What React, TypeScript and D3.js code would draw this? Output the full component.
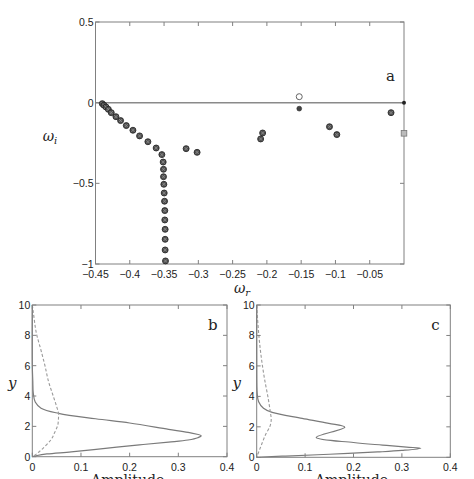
import * as d3 from "d3";

// panel a: eigenvalue spectrum (omega_r, omega_i)
const branchR = [-0.4401, -0.4377, -0.4347, -0.4313, -0.427, -0.4202, -0.4134, -0.4051, -0.3954, -0.3857, -0.3736, -0.3615, -0.3532, -0.3513, -0.3508, -0.3508, -0.3503, -0.3498, -0.3493, -0.3489, -0.3489, -0.3484, -0.3484, -0.3484, -0.3479];
const branchI = [-0.006, -0.016, -0.027, -0.041, -0.062, -0.087, -0.111, -0.142, -0.171, -0.206, -0.242, -0.281, -0.322, -0.368, -0.413, -0.459, -0.506, -0.56, -0.611, -0.669, -0.727, -0.785, -0.847, -0.913, -0.981];
const looseR = [-0.3178, -0.3018, -0.2062, -0.2091, -0.1087, -0.098, -0.0189];
const looseI = [-0.285, -0.308, -0.188, -0.225, -0.149, -0.198, -0.062];
const openPt = [-0.1528, 0.037];
const crossPt = [-0.1528, -0.037];
const squarePt = [0, -0.19];
const originPt = [0, 0];

const aXTicks = [-0.45, -0.4, -0.35, -0.3, -0.25, -0.2, -0.15, -0.1, -0.05];
const aYTicks = [-1, -0.5, 0, 0.5];

// panels b, c: amplitude profiles vs y
const bSolidX = [0, 0.01, 0.03, 0.08, 0.15, 0.22, 0.28, 0.32, 0.34, 0.347, 0.32, 0.28, 0.2, 0.13, 0.054, 0.018, 0.006, 0.002, 0.001, 0, 0];
const bSolidY = [0, 0.08, 0.18, 0.32, 0.55, 0.78, 0.96, 1.1, 1.25, 1.38, 1.6, 1.8, 2.22, 2.5, 2.86, 3.2, 3.6, 4.2, 5, 6, 10];
const bDashX = [0, 0.003, 0.008, 0.018, 0.026, 0.033, 0.043, 0.05, 0.054, 0.053, 0.046, 0.038, 0.025, 0.015, 0.005, 0];
const bDashY = [10, 9.3, 8.2, 7.0, 6.0, 5.0, 4.0, 3.3, 2.8, 2.2, 1.6, 1.1, 0.65, 0.35, 0.1, 0];

const cSolidX = [0, 0.01, 0.06, 0.15, 0.25, 0.3, 0.339, 0.31, 0.26, 0.2, 0.123, 0.182, 0.149, 0.094, 0.032, 0.014, 0.004, 0.001, 0, 0];
const cSolidY = [0, 0.02, 0.08, 0.2, 0.35, 0.45, 0.59, 0.67, 0.8, 0.97, 1.31, 1.97, 2.23, 2.56, 2.95, 3.22, 3.65, 4.2, 6, 10];
const cDashX = [0, 0.002, 0.006, 0.011, 0.017, 0.023, 0.028, 0.03, 0.027, 0.02, 0.012, 0.006, 0];
const cDashY = [10, 9, 7.5, 6.2, 5.0, 4.0, 3.0, 2.5, 2.0, 1.6, 1.0, 0.5, 0];

const ampTicks = [0, 0.1, 0.2, 0.3, 0.4];
const yTicks = [0, 2, 4, 6, 8, 10];

const FRAME = "#808080";
const TEXT = "#222";
const SANS = "'Liberation Sans', Arial, sans-serif";
const SERIF = "'DejaVu Serif', 'Liberation Serif', serif";
const fmt = (v: number) => (v < 0 ? "\u2212" + String(-v) : String(v));

type Sc = d3.ScaleLinear<number, number>;

function Frame({ x, y, xt, yt }: { x: Sc; y: Sc; xt: number[]; yt: number[] }) {
  const [x0, x1] = x.range();
  const [y0, y1] = y.range();
  const tl = 4;
  return (
    <g>
      <rect x={x0} y={y1} width={x1 - x0} height={y0 - y1} fill="none" stroke={FRAME} strokeWidth={1} />
      {xt.map((t) => (
        <g key={"x" + t}>
          <line x1={x(t)} x2={x(t)} y1={y0} y2={y0 - tl} stroke={FRAME} />
          <line x1={x(t)} x2={x(t)} y1={y1} y2={y1 + tl} stroke={FRAME} />
          <text x={x(t)} y={y0 + 14} textAnchor="middle" fontSize={10.5} fontFamily={SANS} fill={TEXT}>
            {fmt(t)}
          </text>
        </g>
      ))}
      {yt.map((t) => (
        <g key={"y" + t}>
          <line x1={x0} x2={x0 + tl} y1={y(t)} y2={y(t)} stroke={FRAME} />
          <line x1={x1} x2={x1 - tl} y1={y(t)} y2={y(t)} stroke={FRAME} />
          <text x={x0 - 2} y={y(t) + 4} textAnchor="end" fontSize={10.5} fontFamily={SANS} fill={TEXT}>
            {fmt(t)}
          </text>
        </g>
      ))}
    </g>
  );
}

function Profile({ x, y, sx, sy, dx, dy, tag }: { x: Sc; y: Sc; sx: number[]; sy: number[]; dx: number[]; dy: number[]; tag: string }) {
  const smooth = d3
    .line<[number, number]>()
    .x((d) => x(d[0]))
    .y((d) => y(d[1]))
    .curve(d3.curveMonotoneY);
  const cr = d3
    .line<[number, number]>()
    .x((d) => x(d[0]))
    .y((d) => y(d[1]))
    .curve(d3.curveCatmullRom.alpha(0.5));
  const solid = sx.map((v, i) => [v, sy[i]] as [number, number]);
  const dash = dx.map((v, i) => [v, dy[i]] as [number, number]);
  const [x0, x1] = x.range();
  const [y0, y1] = y.range();
  return (
    <g>
      <path d={cr(solid) ?? ""} fill="none" stroke="#7a7a7a" strokeWidth={1.2} />
      <path d={smooth(dash) ?? ""} fill="none" stroke="#9a9a9a" strokeWidth={1.1} strokeDasharray="3,2" />
      <Frame x={x} y={y} xt={ampTicks} yt={yTicks} />
      <text x={x1 - 19} y={y1 + 25} fontSize={15} fontFamily={SERIF} fill={TEXT}>
        {tag}
      </text>
      <text x={x0 - 20} y={(y0 + y1) / 2 + 7} textAnchor="middle" fontSize={15} fontStyle="italic" fontFamily={SERIF} fill={TEXT}>
        y
      </text>
      <text x={(x0 + x1) / 2 - 2} y={y0 + 28} textAnchor="middle" fontSize={14} fontFamily={SERIF} fill={TEXT}>
        Amplitude
      </text>
    </g>
  );
}

export default function App() {
  const ax = d3.scaleLinear().domain([-0.45, 0]).range([95.5, 404]);
  const ay = d3.scaleLinear().domain([-1, 0.5]).range([264, 22]);
  const bx = d3.scaleLinear().domain([0, 0.4]).range([32.3, 227]);
  const by = d3.scaleLinear().domain([0, 10]).range([456.7, 305]);
  const cx = d3.scaleLinear().domain([0, 0.4]).range([256.7, 450.3]);
  const cy = d3.scaleLinear().domain([0, 10]).range([457.3, 305]);

  const dots = [
    ...branchR.map((v, i) => [v, branchI[i]]),
    ...looseR.map((v, i) => [v, looseI[i]]),
  ];

  return (
    <svg width={474} height={479} style={{ position: "absolute", left: 0, top: 0, background: "#fff" }}>
      <rect width={474} height={479} fill="#fff" />
      {/* panel a */}
      <line x1={ax(-0.45)} x2={ax(0)} y1={ay(0)} y2={ay(0)} stroke="#8a8a8a" strokeWidth={1.5} />
      <Frame x={ax} y={ay} xt={aXTicks} yt={aYTicks} />
      {dots.map((d, i) => (
        <g key={i}>
          <circle cx={ax(d[0])} cy={ay(d[1])} r={3} fill="#505050" stroke="#1e1e1e" strokeWidth={0.8} />
          <path
            d={`M${ax(d[0]) - 1.6},${ay(d[1]) - 1.6}L${ax(d[0]) + 1.6},${ay(d[1]) + 1.6}M${ax(d[0]) - 1.6},${ay(d[1]) + 1.6}L${ax(d[0]) + 1.6},${ay(d[1]) - 1.6}`}
            stroke="#999"
            strokeWidth={0.7}
          />
        </g>
      ))}
      <circle cx={ax(openPt[0])} cy={ay(openPt[1])} r={3} fill="#fff" stroke="#666" strokeWidth={1} />
      <circle cx={ax(crossPt[0])} cy={ay(crossPt[1])} r={2.4} fill="#444" stroke="#222" strokeWidth={0.6} />
      <rect x={ax(squarePt[0]) - 2.8} y={ay(squarePt[1]) - 2.8} width={5.6} height={5.6} fill="#bbb" stroke="#777" strokeWidth={0.8} />
      <circle cx={ax(originPt[0])} cy={ay(originPt[1])} r={2} fill="#222" />
      <text x={386} y={81} fontSize={15} fontFamily={SERIF} fill={TEXT}>
        a
      </text>
      <text x={50} y={141} textAnchor="middle" fontSize={14} fontStyle="italic" fontFamily={SERIF} fill={TEXT}>
        ω<tspan fontSize={10} dy={3}>i</tspan>
      </text>
      <text x={242} y={293} textAnchor="middle" fontSize={14} fontStyle="italic" fontFamily={SERIF} fill={TEXT}>
        ω<tspan fontSize={10} dy={3}>r</tspan>
      </text>
      {/* panels b, c */}
      <Profile x={bx} y={by} sx={bSolidX} sy={bSolidY} dx={bDashX} dy={bDashY} tag="b" />
      <Profile x={cx} y={cy} sx={cSolidX} sy={cSolidY} dx={cDashX} dy={cDashY} tag="c" />
    </svg>
  );
}
